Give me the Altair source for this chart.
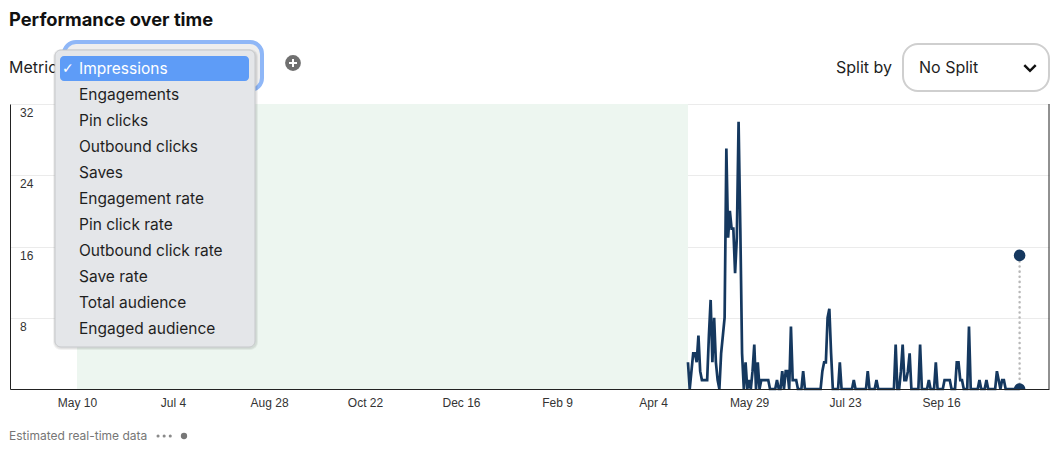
import altair as alt
import pandas as pd

# ---------------- data ----------------
TITLE = "Performance over time"
METRIC_LABEL = "Metric"
SPLIT_LABEL = "Split by"
SPLIT_VALUE = "No Split"
LEGEND_LABEL = "Estimated real-time data"

metric_options = ["Impressions", "Engagements", "Pin clicks", "Outbound clicks", "Saves",
                  "Engagement rate", "Pin click rate", "Outbound click rate", "Save rate",
                  "Total audience", "Engaged audience"]
selected_metric = "Impressions"

tick_dates = ["2023-05-10", "2023-07-04", "2023-08-28", "2023-10-22", "2023-12-16",
              "2024-02-09", "2024-04-04", "2024-05-29", "2024-07-23", "2024-09-16"]
y_grid = [0, 8, 16, 24, 32]
y_labels = [8, 16, 24, 32]
y_max = 32

domain_start = "2023-04-01T14:24:00"
domain_end = "2024-11-16T20:10:00"

no_data_start = "2023-05-10"
no_data_end = "2024-04-24"

series_start = "2024-04-24"
impressions = [
    3, 0, 2, 4, 4, 3, 6, 2, 1, 1,
    1, 1, 6, 10, 3, 8, 3, 1, 0, 4,
    6, 8, 27, 17, 20, 18, 18, 13, 17, 30,
    18, 4, 0, 3, 0, 1, 0, 2, 5, 0,
    3, 0, 1, 1, 1, 1, 1, 0, 0, 0,
    0, 1, 0, 0, 2, 0, 2, 2, 0, 7,
    1, 1, 1, 0, 0, 0, 2, 0, 0, 0,
    0, 0, 0, 0, 0, 0, 0, 2, 3, 3,
    8, 9, 4, 0, 0, 0, 0, 3, 0, 0,
    0, 0, 0, 0, 0, 1, 0, 0, 0, 0,
    0, 0, 0, 2, 0, 0, 0, 0, 1, 0,
    0, 0, 0, 0, 0, 0, 0, 0, 0, 5,
    0, 0, 2, 5, 1, 1, 2, 4, 0, 0,
    0, 0, 0, 5, 0, 0, 0, 0, 1, 0,
    0, 0, 3, 0, 0, 0, 0, 1, 1, 1,
    1, 0, 0, 0, 3, 3, 1, 1, 0, 0,
    0, 7, 0, 0, 0, 0, 0, 1, 0, 0,
    0, 1, 0, 0, 0, 0, 0, 2, 1, 0,
    1, 1, 0, 0, 0, 0, 0, 0, 0, 0,
    0,
]
estimated_value = 15

# ---------------- styling ----------------
NAVY = "#15385f"
W, H = 1039, 285


def ms(s):
    return int(pd.Timestamp(s).value // 1_000_000)


dates = pd.date_range(series_start, periods=len(impressions), freq="D").strftime("%Y-%m-%d").tolist()
line_df = pd.DataFrame({"date": dates, "value": impressions})
last_date = dates[-1]

x_scale = alt.Scale(type="utc", domain=[ms(domain_start), ms(domain_end)])
y_scale = alt.Scale(domain=[0, y_max], nice=False, zero=True)

x_axis = alt.Axis(values=[ms(d) for d in tick_dates],
                  labelExpr="utcFormat(datum.value, '%b %-d')",
                  grid=False, ticks=False, tickSize=0, domainColor="#222222", domainWidth=1,
                  labelFont="Liberation Sans", labelFontSize=12, labelColor="#333333",
                  labelPadding=8, labelAngle=0, labelOverlap=False, zindex=1)
y_axis = alt.Axis(values=y_grid, labels=False, ticks=False, tickSize=0, grid=True,
                  gridColor="#ebebeb", gridWidth=1, domainColor="#222222", domainWidth=1)

X = lambda f: alt.X(f, scale=x_scale, axis=x_axis, title=None)
Y = lambda f: alt.Y(f, scale=y_scale, axis=y_axis, title=None)

band = alt.Chart(alt.Data(values=[{"date": no_data_start, "date_end": no_data_end}])).mark_rect(
    color="#edf6f0").encode(x=X("date:T"), x2=alt.X2("date_end"), y=alt.value(0), y2=alt.value(H))

line = alt.Chart(line_df).mark_line(color=NAVY, strokeWidth=2.7).encode(
    x=X("date:T"), y=Y("value:Q"))

ylab = alt.Chart(pd.DataFrame({"value": y_labels})).mark_text(
    align="left", baseline="middle", dy=9, font="Liberation Sans", fontSize=12, color="#333333"
).encode(x=alt.value(10), y=Y("value:Q"), text="value:Q")

est_rule = alt.Chart(alt.Data(values=[{"date": last_date, "value": impressions[-1], "value_end": estimated_value}])).mark_rule(
    color="#b8b8b8", strokeWidth=2.5, strokeDash=[0.1, 5], strokeCap="round").encode(
    x=X("date:T"), y=Y("value:Q"), y2=alt.Y2("value_end"))

est_dots = alt.Chart(alt.Data(values=[{"date": last_date, "value": estimated_value},
                                      {"date": last_date, "value": impressions[-1]}])).mark_circle(
    color=NAVY, size=135, opacity=1, clip=True).encode(x=X("date:T"), y=Y("value:Q"))


def ui():
    return alt.Chart(alt.Data(values=[{"u": 1}]))


def box(x1, x2, y1, y2, **kw):
    return ui().mark_rect(**kw).encode(x=alt.value(x1), x2=alt.value(x2), y=alt.value(y1), y2=alt.value(y2))


def label(txt, x, y, **kw):
    opts = dict(align="left", baseline="middle", font="Inter", fontSize=16, color="#1f1f1f")
    opts.update(kw)
    return ui().mark_text(text=txt, **opts).encode(x=alt.value(x), y=alt.value(y))


right_border = ui().mark_rule(color="#222222", strokeWidth=1).encode(
    x=alt.value(W), y=alt.value(0), y2=alt.value(H))

layers = [band, line, ylab, right_border, est_rule, est_dots]

# header
layers.append(label(TITLE, -1, -78, baseline="alphabetic", fontSize=18.3, fontWeight=700, color="#111111"))
layers.append(label(METRIC_LABEL, -1, -36))
layers.append(ui().mark_circle(size=250, color="#707070", opacity=1).encode(x=alt.value(283), y=alt.value(-41)))
layers.append(ui().mark_point(shape="M-1,0L1,0M0,-1L0,1", filled=False, stroke="white", strokeWidth=2,
                              size=64, opacity=1).encode(x=alt.value(283), y=alt.value(-41)))
layers.append(label(SPLIT_LABEL, 882, -36, align="right"))
layers.append(box(893, 1039, -60, -13, fill="white", stroke="#cfcfcf", strokeWidth=2, cornerRadius=15))
layers.append(label(SPLIT_VALUE, 909, -36))
layers.append(ui().mark_point(shape="M-1,-0.5L0,0.5L1,-0.5", filled=False, stroke="#111111", strokeWidth=2.5,
                              size=130, opacity=1).encode(x=alt.value(1020), y=alt.value(-36)))

# focused select + open menu
layers.append(box(54, 252, -62, -14, fill="#eeeeee", stroke="#8fb7f7", strokeWidth=4, cornerRadius=12))
layers.append(box(43, 248, -55, 246, fill="#000000", opacity=0.05, cornerRadius=8))
layers.append(box(44, 247, -54, 245, fill="#000000", opacity=0.06, cornerRadius=7))
layers.append(box(45, 245, -54, 243, fill="#e4e6e9", stroke="#c6c8cb", strokeWidth=1, cornerRadius=6))
sel_i = metric_options.index(selected_metric)
layers.append(box(50, 239, -48 + 26 * sel_i, -23 + 26 * sel_i, fill="#5e9cf7", cornerRadius=4))
layers.append(label("✓", 52, -35 + 26 * sel_i, font="DejaVu Sans", fontSize=14, color="white"))
for i, item in enumerate(metric_options):
    layers.append(label(item, 69, -35 + 26 * i, fontSize=15.5,
                        color="white" if item == selected_metric else "#1f1f1f"))

# bottom legend
layers.append(label(LEGEND_LABEL, -1, 332, fontSize=12, color="#767676"))
layers.append(ui().mark_rule(color="#8a8a8a", strokeWidth=3, strokeDash=[0.1, 6], strokeCap="round").encode(
    x=alt.value(148), x2=alt.value(161), y=alt.value(332)))
layers.append(ui().mark_circle(size=40, color="#777777", opacity=1).encode(x=alt.value(174), y=alt.value(332)))

chart = alt.layer(*layers).properties(
    width=W, height=H,
    autosize=alt.AutoSizeParams(type="none"),
    padding={"left": 2, "top": 96, "right": 4, "bottom": 53},
).configure_view(stroke=None)

chart.save("out.html", embed_options={"renderer": "svg", "actions": False})
